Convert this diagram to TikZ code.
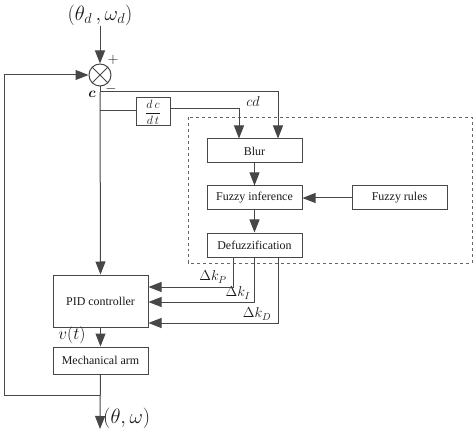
\documentclass[tikz,border=0pt]{standalone}
\usepackage{amsmath}
\usepackage{bm}
\usepackage{fontspec}
\setmainfont{Liberation Serif}
\usetikzlibrary{arrows.meta}
\begin{document}
\begin{tikzpicture}[x=1bp,y=-1bp,
  line/.style={draw=black!72, line width=1bp},
  arr/.style={line, -{Triangle[length=13bp,width=10bp]}},
  blk/.style={draw=black!72, line width=1bp, minimum width=95bp, inner sep=0pt, text=black!90, font=\fontsize{12}{14}\selectfont},
  lbl/.style={inner sep=0pt, text=black!90}]
\useasboundingbox (0,0) rectangle (474,436);
% dashed fuzzy region
\draw[black!60, dashed, line width=0.9bp] (188,117) rectangle (472,263);
% nodes
\node[lbl, font=\fontsize{20}{22}\selectfont] (thd) at (100,15) {$(\theta_d\,,\omega_d)$};
\node[circle, draw=black!72, line width=1bp, minimum size=22bp, inner sep=0pt] (sum) at (100,75) {};
\draw[line] (sum.north west) -- (sum.south east) (sum.north east) -- (sum.south west);
\node[lbl, font=\fontsize{14}{15}\selectfont] (plus) at (113,60) {$+$};
\node[lbl, font=\fontsize{14}{15}\selectfont] (minus) at (111,89) {$-$};
\node[lbl, font=\fontsize{15}{17}\selectfont] (cl) at (92,94) {$\bm{c}$};
\node[draw=black!72, line width=1bp, minimum width=34bp, minimum height=28bp, inner sep=0pt, text=black!90, font=\fontsize{12.5}{13}\selectfont] (dcdt) at (153,112) {$\dfrac{d\,c}{d\,t}$};
\node[lbl, font=\fontsize{15}{17}\selectfont] (cd) at (253,102) {$cd$};
\node[blk, minimum height=24bp] (blur) at (254.5,151) {Blur};
\node[blk, minimum height=24bp] (inf) at (254.5,198) {Fuzzy inference};
\node[blk, minimum height=24bp] (rules) at (399.5,198) {Fuzzy rules};
\node[blk, minimum height=24bp] (defz) at (254.5,245) {Defuzzification};
\node[blk, minimum height=52bp] (pid) at (100.5,301) {PID controller};
\node[blk, minimum height=27bp] (arm) at (100.5,360.5) {Mechanical arm};
\node[lbl, font=\fontsize{20}{22}\selectfont, anchor=west] (out) at (103,418) {$(\theta,\omega)$};
\node[lbl, font=\fontsize{17}{19}\selectfont] (vt) at (72,335) {$v(t)$};
\node[lbl, font=\fontsize{14}{16}\selectfont] (kp) at (213,277) {$\Delta k_{P}$};
\node[lbl, font=\fontsize{14}{16}\selectfont] (ki) at (238,293) {$\Delta k_{I}$};
\node[lbl, font=\fontsize{14}{16}\selectfont] (kd) at (257,314) {$\Delta k_{D}$};
% coordinates
\coordinate (c1) at (100,92);
\coordinate (c1r) at (278,92);
\coordinate (br) at (100,111);
\coordinate (dr) at (239,109);
\coordinate (fb) at (100,395);
\coordinate (fbL) at (4,395);
\coordinate (fbT) at (4,75);
\coordinate (outE) at (100,429);
\coordinate (p1) at (233,287);
\coordinate (p2) at (254,302);
\coordinate (p3) at (278,323);
% connectors
\draw[arr] (thd) -- (sum.north);
\draw[line] (sum.south) -- (c1);
\draw[arr] (c1) -- (c1r) -- (blur.north -| c1r);
\draw[arr] (c1) -- (pid.north);
\draw[line] (br) -- (dcdt.west |- br);
\draw[arr] (dcdt.east |- dr) -- (dr) -- (blur.north -| dr);
\draw[arr] (blur) -- (inf);
\draw[arr] (inf) -- (defz);
\draw[arr] (rules) -- (inf);
\draw[arr] (defz.south -| p1) -- (p1) -- (pid.east |- p1);
\draw[arr] (defz.south -| p2) -- (p2) -- (pid.east |- p2);
\draw[arr] (defz.south -| p3) -- (p3) -- (pid.east |- p3);
\draw[arr] (pid) -- (arm);
\draw[arr] (arm) -- (outE);
\draw[arr] (fb) -- (fbL) -- (fbT) -- (sum.west);
\end{tikzpicture}
\end{document}
